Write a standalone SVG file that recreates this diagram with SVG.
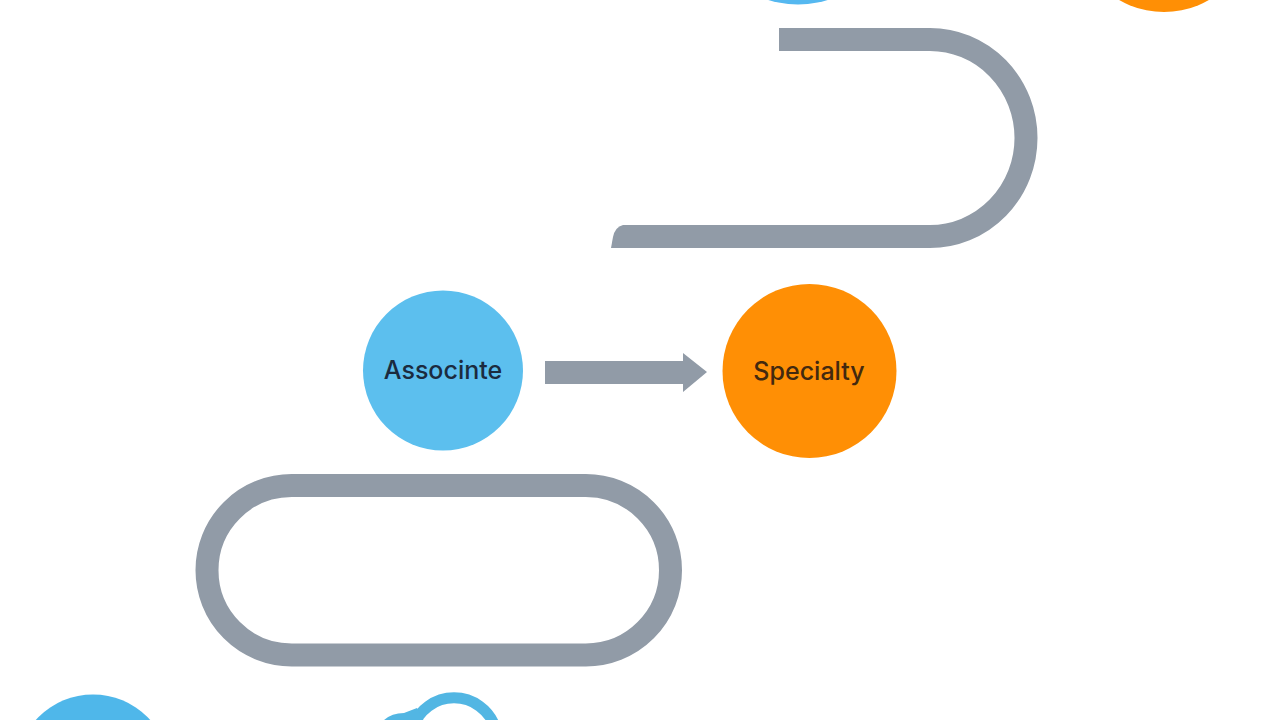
<svg xmlns="http://www.w3.org/2000/svg" width="1280" height="720" viewBox="0 0 1280 720">
<style>
.blue{fill:#5cbfee}
.orange{fill:#ff8f05}
.conn{fill:none;stroke:#919ba7;stroke-width:23}
.head{fill:#919ba7;stroke:none}
.label{font-family:"Inter","Liberation Sans",sans-serif;font-size:25px;font-weight:500;text-anchor:middle;fill:#1b2b3f}
.cloud{fill:none;stroke:#52b6e3;stroke-width:11}
</style>
<rect width="1280" height="720" fill="#ffffff"/>
<g id="connectors">
<path class="conn" d="M779 39.5H930A96 98.5 0 0 1 930 236.5H625"/>
<path class="head" d="M626 225H623Q615 227 613 237L611 248H626Z"/>
<rect class="conn" x="207" y="485.5" width="463.500" height="169.500" rx="84.700"/>
<path class="head" d="M545 361H683V353L707 372L683 392V384H545Z"/>
</g>
<g id="node-top-blue"><circle class="blue" cx="798" cy="-95.500" r="100" style="fill:#55b8f0"/></g>
<g id="node-top-orange"><circle class="orange" cx="1164" cy="-78" r="90"/></g>
<g id="node-associate"><circle class="blue" cx="443" cy="370.500" r="80"/><text class="label" x="443" y="379">Associnte</text></g>
<g id="node-specialty"><circle class="orange" cx="809.500" cy="371" r="87"/><text class="label" x="809" y="380" style="fill:#43290f">Specialty</text></g>
<g id="node-bottom-blue"><circle class="blue" cx="93" cy="771.500" r="77" style="fill:#4fb7ea"/></g>
<g id="node-cloud"><path class="cloud" d="M412.600 728A43.500 43.500 0 0 1 495.400 728"/><path d="M383 721Q391 713 404 713L417 708L424 721Z" fill="#52b6e3"/></g>
</svg>
